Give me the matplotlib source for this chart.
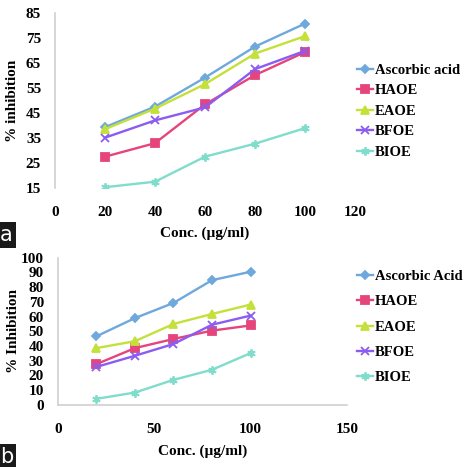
import matplotlib
matplotlib.use("Agg")
import matplotlib.pyplot as plt
from matplotlib.lines import Line2D

plt.rcParams["font.family"] = ["Liberation Serif", "DejaVu Serif"]
plt.rcParams["font.weight"] = "bold"
plt.rcParams["font.size"] = 10

conc = [20, 40, 60, 80, 100]
names_a = ["Ascorbic acid", "HAOE", "EAOE", "BFOE", "BIOE"]
names_b = ["Ascorbic Acid", "HAOE", "EAOE", "BFOE", "BIOE"]

# panel a
ascorbic_a = [39.4, 47.6, 59.2, 71.6, 80.8]
haoe_a = [27.6, 33.0, 48.5, 60.2, 69.4]
eaoe_a = [38.6, 46.8, 56.6, 68.8, 75.8]
bfoe_a = [35.2, 42.1, 47.3, 62.6, 69.9]
bioe_a = [15.4, 17.6, 27.6, 32.8, 39.0]

# panel b
ascorbic_b = [46.6, 59.0, 69.3, 84.8, 90.5]
haoe_b = [27.7, 38.6, 44.8, 50.5, 54.0]
eaoe_b = [38.6, 43.3, 55.0, 61.8, 68.2]
bfoe_b = [25.8, 33.4, 41.4, 54.5, 60.7]
bioe_b = [4.1, 8.4, 17.0, 23.9, 35.2]

colors = ["#6FA8DC", "#E5457B", "#C4E03A", "#8B5CF0", "#80DCCB"]
markers = ["D", "s", "^", "x", (6, 2, 0)]
msizes = [4.5, 6, 6, 6, 6]
axis_grey = "#D0D0D0"

fig = plt.figure(figsize=(4.74, 4.67), dpi=100)


def draw_panel(ax, series, names, leg_y, leg_spacing):
    for vals, name, c, m, ms in zip(series, names, colors, markers, msizes):
        ax.plot(conc, vals, color=c, lw=1.7, marker=m, ms=ms,
                markeredgewidth=1.3, label=name)
    for side in ["top", "right"]:
        ax.spines[side].set_visible(False)
    for side in ["left", "bottom"]:
        ax.spines[side].set_color(axis_grey)
        ax.spines[side].set_linewidth(1.2)
    ax.tick_params(length=0, pad=10, labelsize=11)
    handles = [Line2D([], [], color=c, lw=1.7, marker=m, ms=ms, markeredgewidth=1.3)
               for c, m, ms in zip(colors, markers, msizes)]
    fig.legend(handles, names, loc="upper left", bbox_to_anchor=(0.725, leg_y),
               frameon=False, handlelength=1.1, handletextpad=0.15,
               labelspacing=leg_spacing, prop={"weight": "bold", "size": 10.5})


ax1 = fig.add_axes([0.116, 0.597, 0.633, 0.375])
draw_panel(ax1, [ascorbic_a, haoe_a, eaoe_a, bfoe_a, bioe_a], names_a, 0.892, 0.5)
ax1.set_xlim(0, 120)
ax1.set_ylim(15, 85)
ax1.set_xticks(range(0, 121, 20))
ax1.set_yticks(range(15, 86, 10))
ax1.spines["bottom"].set_visible(False)
ax1.tick_params(axis="x", pad=13)
ax1.set_ylabel("% inhibition", fontsize=11, fontweight="bold", labelpad=5)
ax1.set_xlabel("Conc. (µg/ml)", fontsize=11, fontweight="bold", labelpad=5)

ax2 = fig.add_axes([0.122, 0.133, 0.610, 0.315])
draw_panel(ax2, [ascorbic_b, haoe_b, eaoe_b, bfoe_b, bioe_b], names_b, 0.45, 0.83)
ax2.set_xlim(0, 150)
ax2.set_ylim(0, 100)
ax2.set_xticks([0, 50, 100, 150])
ax2.set_yticks(range(0, 101, 10))
ax2.tick_params(axis="x", pad=13)
ax2.tick_params(axis="y", pad=10)
ax2.set_ylabel("% Inhibition", fontsize=11, fontweight="bold", labelpad=1)
ax2.set_xlabel("Conc. (µg/ml)", fontsize=11, fontweight="bold", labelpad=6)

# panel letters
for letter, y0 in [("a", 1 - 245 / 467), ("b", 1 - 467 / 467)]:
    fig.text(0.0, y0, letter, fontsize=15, color="white", family="DejaVu Sans",
             fontweight="normal", ha="left", va="bottom",
             bbox=dict(boxstyle="square,pad=0.15", fc="#1a1a1a", ec="none"))

fig.savefig("out.png", dpi=100)
